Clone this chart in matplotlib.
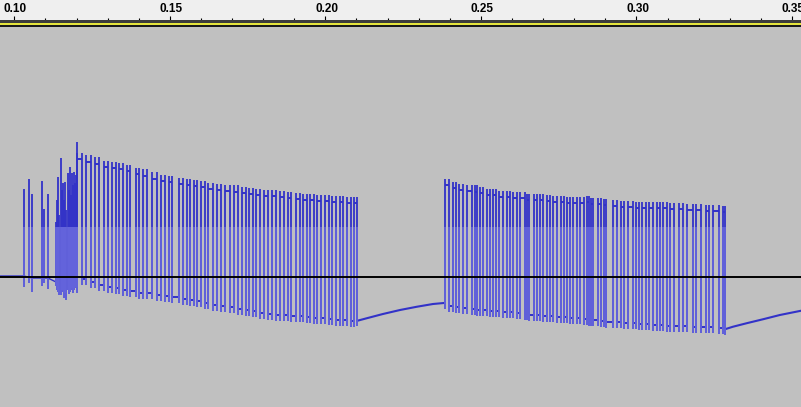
import matplotlib
matplotlib.use('Agg')
import matplotlib.pyplot as plt
from matplotlib.patches import Rectangle
from matplotlib.ticker import MultipleLocator

# time axis (s) visible in the window
view_start = 0.0954
view_end = 0.3529
major_ticks = [0.10, 0.15, 0.20, 0.25, 0.30, 0.35]

# flat line before the first clicks
pre_t = [0.0954, 0.1031, 0.1057, 0.1108, 0.1134]
pre_v = [0.004, 0.004, -0.004, -0.004, -0.020]

# isolated clicks and the noisy cluster before the first burst
spike_t = [0.1031, 0.1047, 0.1057, 0.1089, 0.1095, 0.1108, 0.1134, 0.1137, 0.1140, 0.1144,
           0.1150, 0.1153, 0.1157, 0.1160, 0.1163, 0.1166, 0.1173, 0.1176, 0.1179, 0.1182,
           0.1185, 0.1189, 0.1192, 0.1195, 0.1198, 0.1202]
spike_top = [0.352, 0.392, 0.332, 0.384, 0.272, 0.332, 0.220, 0.308, 0.400, 0.248,
             0.476, 0.348, 0.376, 0.308, 0.380, 0.268, 0.416, 0.348, 0.440, 0.328,
             0.416, 0.368, 0.420, 0.376, 0.408, 0.540]
spike_bot = [-0.040, -0.024, -0.060, -0.036, -0.024, -0.048, -0.036, -0.052, -0.060, -0.072,
             -0.072, -0.052, -0.060, -0.084, -0.064, -0.092, -0.052, -0.068, -0.060, -0.052,
             -0.044, -0.064, -0.052, -0.044, -0.040, -0.040]

# first pulse burst: edge times, high plateaus, low plateaus
b1_edges = [0.1202, 0.1218, 0.1230, 0.1246, 0.1259, 0.1272, 0.1287, 0.1301, 0.1313, 0.1326,
            0.1337, 0.1350, 0.1362, 0.1373, 0.1390, 0.1400, 0.1414, 0.1428, 0.1443, 0.1458,
            0.1471, 0.1484, 0.1498, 0.1507, 0.1528, 0.1542, 0.1554, 0.1565, 0.1577, 0.1586,
            0.1600, 0.1612, 0.1624, 0.1639, 0.1650, 0.1663, 0.1678, 0.1694, 0.1707, 0.1720,
            0.1733, 0.1744, 0.1755, 0.1766, 0.1778, 0.1790, 0.1803, 0.1816, 0.1828, 0.1841,
            0.1853, 0.1867, 0.1879, 0.1890, 0.1906, 0.1917, 0.1928, 0.1940, 0.1952, 0.1963,
            0.1974, 0.1986, 0.1998, 0.2011, 0.2022, 0.2034, 0.2046, 0.2058, 0.2070, 0.2081,
            0.2093, 0.2102]
b1_high = [0.472, 0.460, 0.452, 0.440, 0.436, 0.432, 0.424, 0.412, 0.404, 0.392,
           0.384, 0.380, 0.372, 0.368, 0.364, 0.360, 0.352, 0.348, 0.344, 0.340,
           0.336, 0.332, 0.328, 0.324, 0.324, 0.320, 0.316, 0.312, 0.308, 0.308,
           0.304, 0.304, 0.300, 0.300, 0.296, 0.296]
b1_low = [-0.008, -0.020, -0.032, -0.040, -0.044, -0.052, -0.056, -0.064, -0.064, -0.072,
          -0.076, -0.080, -0.088, -0.092, -0.096, -0.104, -0.112, -0.116, -0.120, -0.128,
          -0.132, -0.136, -0.144, -0.148, -0.152, -0.152, -0.156, -0.156, -0.160, -0.164,
          -0.164, -0.168, -0.172, -0.172, -0.176]

# recovery between the bursts
r1_t = [0.2103, 0.2133, 0.2185, 0.2240, 0.2294, 0.2346, 0.2381]
r1_v = [-0.175, -0.165, -0.148, -0.132, -0.119, -0.108, -0.104]

# second pulse burst
b2_edges = [0.2385, 0.2398, 0.2409, 0.2420, 0.2431, 0.2443, 0.2456, 0.2470, 0.2480, 0.2486,
            0.2497, 0.2508, 0.2520, 0.2529, 0.2538, 0.2548, 0.2559, 0.2570, 0.2583, 0.2593,
            0.2604, 0.2617, 0.2626, 0.2643, 0.2649, 0.2656, 0.2671, 0.2679, 0.2690, 0.2701,
            0.2713, 0.2722, 0.2733, 0.2746, 0.2756, 0.2767, 0.2776, 0.2786, 0.2795, 0.2808,
            0.2819, 0.2831, 0.2840, 0.2848, 0.2854, 0.2861, 0.2877, 0.2886, 0.2896, 0.2902,
            0.2924, 0.2938, 0.2949, 0.2961, 0.2974, 0.2988, 0.2999, 0.3009, 0.3018, 0.3031,
            0.3041, 0.3052, 0.3065, 0.3076, 0.3086, 0.3097, 0.3108, 0.3121, 0.3138, 0.3149,
            0.3163, 0.3181, 0.3191, 0.3207, 0.3224, 0.3234, 0.3245, 0.3266, 0.3277, 0.3285]
b2_high = [0.368, 0.356, 0.348, 0.344, 0.340, 0.336, 0.328, 0.328, 0.320, 0.320,
           0.316, 0.316, 0.308, 0.308, 0.308, 0.304, 0.300, 0.300, 0.296, 0.296,
           0.296, 0.300, 0.292, 0.292, 0.288, 0.284, 0.280, 0.280, 0.276, 0.276,
           0.276, 0.276, 0.276, 0.272, 0.272, 0.268, 0.268, 0.264, 0.264, 0.260]
b2_low = [-0.116, -0.120, -0.124, -0.128, -0.132, -0.132, -0.136, -0.136, -0.140, -0.140,
          -0.144, -0.148, -0.152, -0.152, -0.156, -0.156, -0.160, -0.160, -0.164, -0.164,
          -0.168, -0.172, -0.172, -0.176, -0.180, -0.180, -0.184, -0.184, -0.188, -0.188,
          -0.192, -0.192, -0.196, -0.196, -0.196, -0.200, -0.200, -0.200, -0.204]

# recovery after the second burst
r2_t = [0.3287, 0.3310, 0.3354, 0.3407, 0.3461, 0.3529]
r2_v = [-0.208, -0.199, -0.185, -0.169, -0.152, -0.135]

DARK = '#3232c8'
LIGHT = '#6464dc'
RMS_TOP = 0.2      # light (rms) part of each edge stops here
RING_UP = 0.026    # ringing above the plateau on every edge
RING_DN = 0.022    # ringing below the low plateau
LW = 1.3

W, H = 801, 407
fig = plt.figure(figsize=(W / 100, H / 100), dpi=100)
fig.patch.set_facecolor('#c0c0c0')

# waveform area
ax = fig.add_axes([0, 0, 1, 380 / H])
ax.set_facecolor('#c0c0c0')
ax.set_xlim(view_start, view_end)
ax.set_ylim(-0.52, 1.0)
ax.axis('off')


def draw_burst(edges, highs, lows, start, end):
    levels = [start]
    for i in range(len(highs)):
        levels.append(highs[i])
        if i < len(lows):
            levels.append(lows[i])
    levels.append(end)
    # plateaus between consecutive edges
    ax.hlines(levels[1:-1], edges[:-1], edges[1:], color=DARK, lw=1.4, zorder=2)
    lo = [min(levels[i], levels[i + 1]) - RING_DN for i in range(len(edges))]
    hi = [max(levels[i], levels[i + 1]) + RING_UP for i in range(len(edges))]
    ax.vlines(edges, lo, hi, color=DARK, lw=LW, zorder=3, snap=True)
    ax.vlines(edges, lo, RMS_TOP, color=LIGHT, lw=LW, zorder=4, snap=True)


ax.plot(pre_t, pre_v, color=DARK, lw=1.0, zorder=2)
ax.vlines(spike_t, spike_bot, spike_top, color=DARK, lw=LW, zorder=3, snap=True)
ax.vlines(spike_t, spike_bot, [min(v, RMS_TOP) for v in spike_top], color=LIGHT,
          lw=LW, zorder=4, snap=True)

draw_burst(b1_edges, b1_high, b1_low, spike_bot[-1], r1_v[0])
ax.plot(r1_t, r1_v, color=DARK, lw=1.5, zorder=2)
draw_burst(b2_edges, b2_high, b2_low, r1_v[-1], r2_v[0])
ax.plot(r2_t, r2_v, color=DARK, lw=1.5, zorder=2)

ax.axhline(0, color='black', lw=1.4, zorder=5)

# time ruler
rh = 20.5
axr = fig.add_axes([0, 1 - rh / H, 1, rh / H])
axr.set_facecolor('#efefef')
axr.set_xlim(view_start, view_end)
axr.set_ylim(0, 1)
for s in axr.spines.values():
    s.set_visible(False)
axr.set_yticks([])
axr.xaxis.set_major_locator(MultipleLocator(0.05))
axr.xaxis.set_minor_locator(MultipleLocator(0.01))
axr.tick_params(axis='x', which='major', direction='in', length=3.6, width=0.8,
                color='black', labelbottom=False)
axr.tick_params(axis='x', which='minor', direction='in', length=2.2, width=0.8, color='black')
for t in major_ticks:
    axr.text(t + 0.0004, 0.40, f'{t:.2f}', ha='center', va='baseline',
             fontsize=8.5, fontweight='bold', family='Liberation Sans', color='black')

# separator lines between ruler and track
fig.add_artist(Rectangle((0, (H - 22.5) / H), 1, 2 / H, transform=fig.transFigure,
                         color='#3c3c3c', lw=0))
fig.add_artist(Rectangle((0, (H - 25) / H), 1, 2.5 / H, transform=fig.transFigure,
                         color='#e4e43c', lw=0))
fig.add_artist(Rectangle((0, (H - 27) / H), 1, 2 / H, transform=fig.transFigure,
                         color='#1a1a1a', lw=0))

fig.savefig('out.png', dpi=100, facecolor=fig.get_facecolor())
